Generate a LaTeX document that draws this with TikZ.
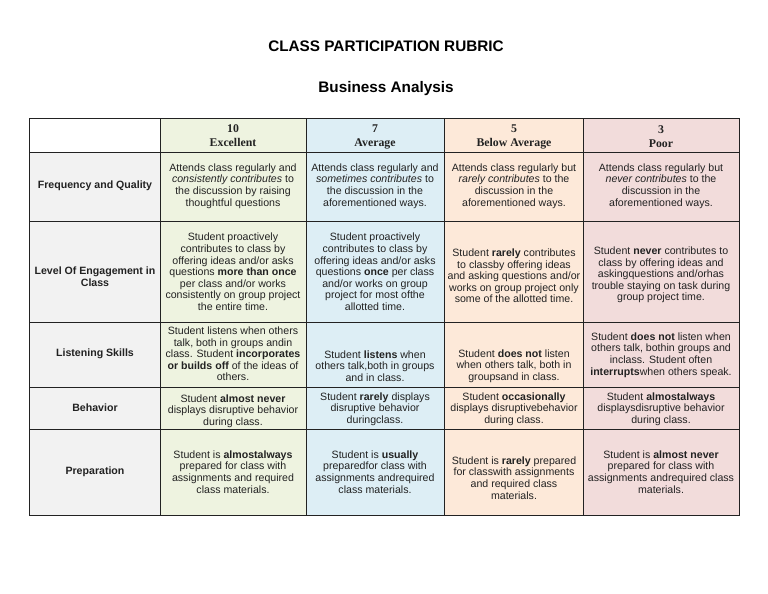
\documentclass[tikz,border=0pt]{standalone}
\usepackage{fontspec}
\setmainfont{Liberation Sans}
\newfontfamily\serif{Liberation Serif}
\definecolor{cgreen}{HTML}{EEF3E0}
\definecolor{cblue}{HTML}{DDEEF5}
\definecolor{cpeach}{HTML}{FDE9D9}
\definecolor{cpink}{HTML}{F2DCDB}
\definecolor{cgray}{HTML}{F2F2F2}
\definecolor{ink}{HTML}{222222}
\begin{document}
\begin{tikzpicture}[x=1pt,y=-1pt,
  cell/.style={align=center,text=ink,font=\fontsize{10.6}{11.6}\selectfont,inner sep=0pt},
  rowlab/.style={cell,font=\fontsize{10.6}{11.6}\selectfont\bfseries},
  head/.style={align=center,text=ink,font=\fontsize{11.8}{14}\selectfont\serif\bfseries,inner sep=0pt}]
\useasboundingbox[fill=white] (0,0) rectangle (768,594);
\node[font=\fontsize{15.3}{17}\selectfont\bfseries] (title) at (386,46) {CLASS PARTICIPATION RUBRIC};
\node[font=\fontsize{15.3}{17}\selectfont\bfseries] (sub) at (386,89) {Business Analysis};
% fills
\fill[cgray] (29,152) rectangle (160,515);
\fill[cgreen] (160,118) rectangle (306,515);
\fill[cblue] (306,118) rectangle (444,515);
\fill[cpeach] (444,118) rectangle (583,515);
\fill[cpink] (583,118) rectangle (739,515);
% grid
\draw[ink,line width=0.9pt] (29,118) rectangle (739,515);
\foreach \x in {160,306,444,583} \draw[ink,line width=0.9pt] (\x,118) -- (\x,515);
\foreach \y in {152,221,322,387,429} \draw[ink,line width=0.9pt] (29,\y) -- (739,\y);
% headers
\node[head] (h1) at (233,136) {10\\Excellent};
\node[head] (h2) at (375,137) {7\\Average};
\node[head] (h3) at (514,137) {5\\Below Average};
\node[head] (h4) at (661,137) {3\\Poor};
% row labels
\node[rowlab] (r1) at (95,186) {Frequency and Quality};
\node[rowlab] (r2) at (95,277) {Level Of Engagement in\\Class};
\node[rowlab] (r3) at (95,354) {Listening Skills};
\node[rowlab] (r4) at (95,408) {Behavior};
\node[rowlab] (r5) at (95,472) {Preparation};
% row 1
\node[cell] (c11) at (233,186) {Attends class regularly and\\\textit{consistently contributes} to\\the discussion by raising\\thoughtful questions};
\node[cell] (c12) at (375,186) {Attends class regularly and\\\textit{sometimes contributes} to\\the discussion in the\\aforementioned ways.};
\node[cell] (c13) at (514,186) {Attends class regularly but\\\textit{rarely contributes} to the\\discussion in the\\aforementioned ways.};
\node[cell] (c14) at (661,186) {Attends class regularly but\\\textit{never contributes} to the\\discussion in the\\aforementioned ways.};
% row 2
\node[cell] (c21) at (233,272) {Student proactively\\contributes to class by\\offering ideas and/or asks\\questions \textbf{more than once}\\per class and/or works\\consistently on group project\\the entire time.};
\node[cell] (c22) at (375,272) {Student proactively\\contributes to class by\\offering ideas and/or asks\\questions \textbf{once} per class\\and/or works on group\\project for most ofthe\\allotted time.};
\node[cell] (c23) at (514,276) {Student \textbf{rarely} contributes\\to classby offering ideas\\and asking questions and/or\\works on group project only\\some of the allotted time.};
\node[cell] (c24) at (661,275) {Student \textbf{never} contributes to\\class by offering ideas and\\askingquestions and/orhas\\trouble staying on task during\\group project time.};
% row 3
\node[cell] (c31) at (233,354) {Student listens when others\\talk, both in groups andin\\class. Student \textbf{incorporates}\\\textbf{or builds off} of the ideas of\\others.};
\node[cell] (c32) at (375,366) {Student \textbf{listens} when\\others talk,both in groups\\and in class.};
\node[cell] (c33) at (514,366) {Student \textbf{does not} listen\\when others talk, both in\\groupsand in class.};
\node[cell] (c34) at (661,355) {Student \textbf{does not} listen when\\others talk, bothin groups and\\inclass. Student often\\\textbf{interrupts}when others speak.};
% row 4
\node[cell] (c41) at (233,411) {Student \textbf{almost never}\\displays disruptive behavior\\during class.};
\node[cell] (c42) at (375,409) {Student \textbf{rarely} displays\\disruptive behavior\\duringclass.};
\node[cell] (c43) at (514,409) {Student \textbf{occasionally}\\displays disruptivebehavior\\during class.};
\node[cell] (c44) at (661,409) {Student \textbf{almostalways}\\displaysdisruptive behavior\\during class.};
% row 5
\node[cell] (c51) at (233,472) {Student is \textbf{almostalways}\\prepared for class with\\assignments and required\\class materials.};
\node[cell] (c52) at (375,472) {Student is \textbf{usually}\\preparedfor class with\\assignments andrequired\\class materials.};
\node[cell] (c53) at (514,478) {Student is \textbf{rarely} prepared\\for classwith assignments\\and required class\\materials.};
\node[cell] (c54) at (661,472) {Student is \textbf{almost never}\\prepared for class with\\assignments andrequired class\\materials.};
\end{tikzpicture}
\end{document}
